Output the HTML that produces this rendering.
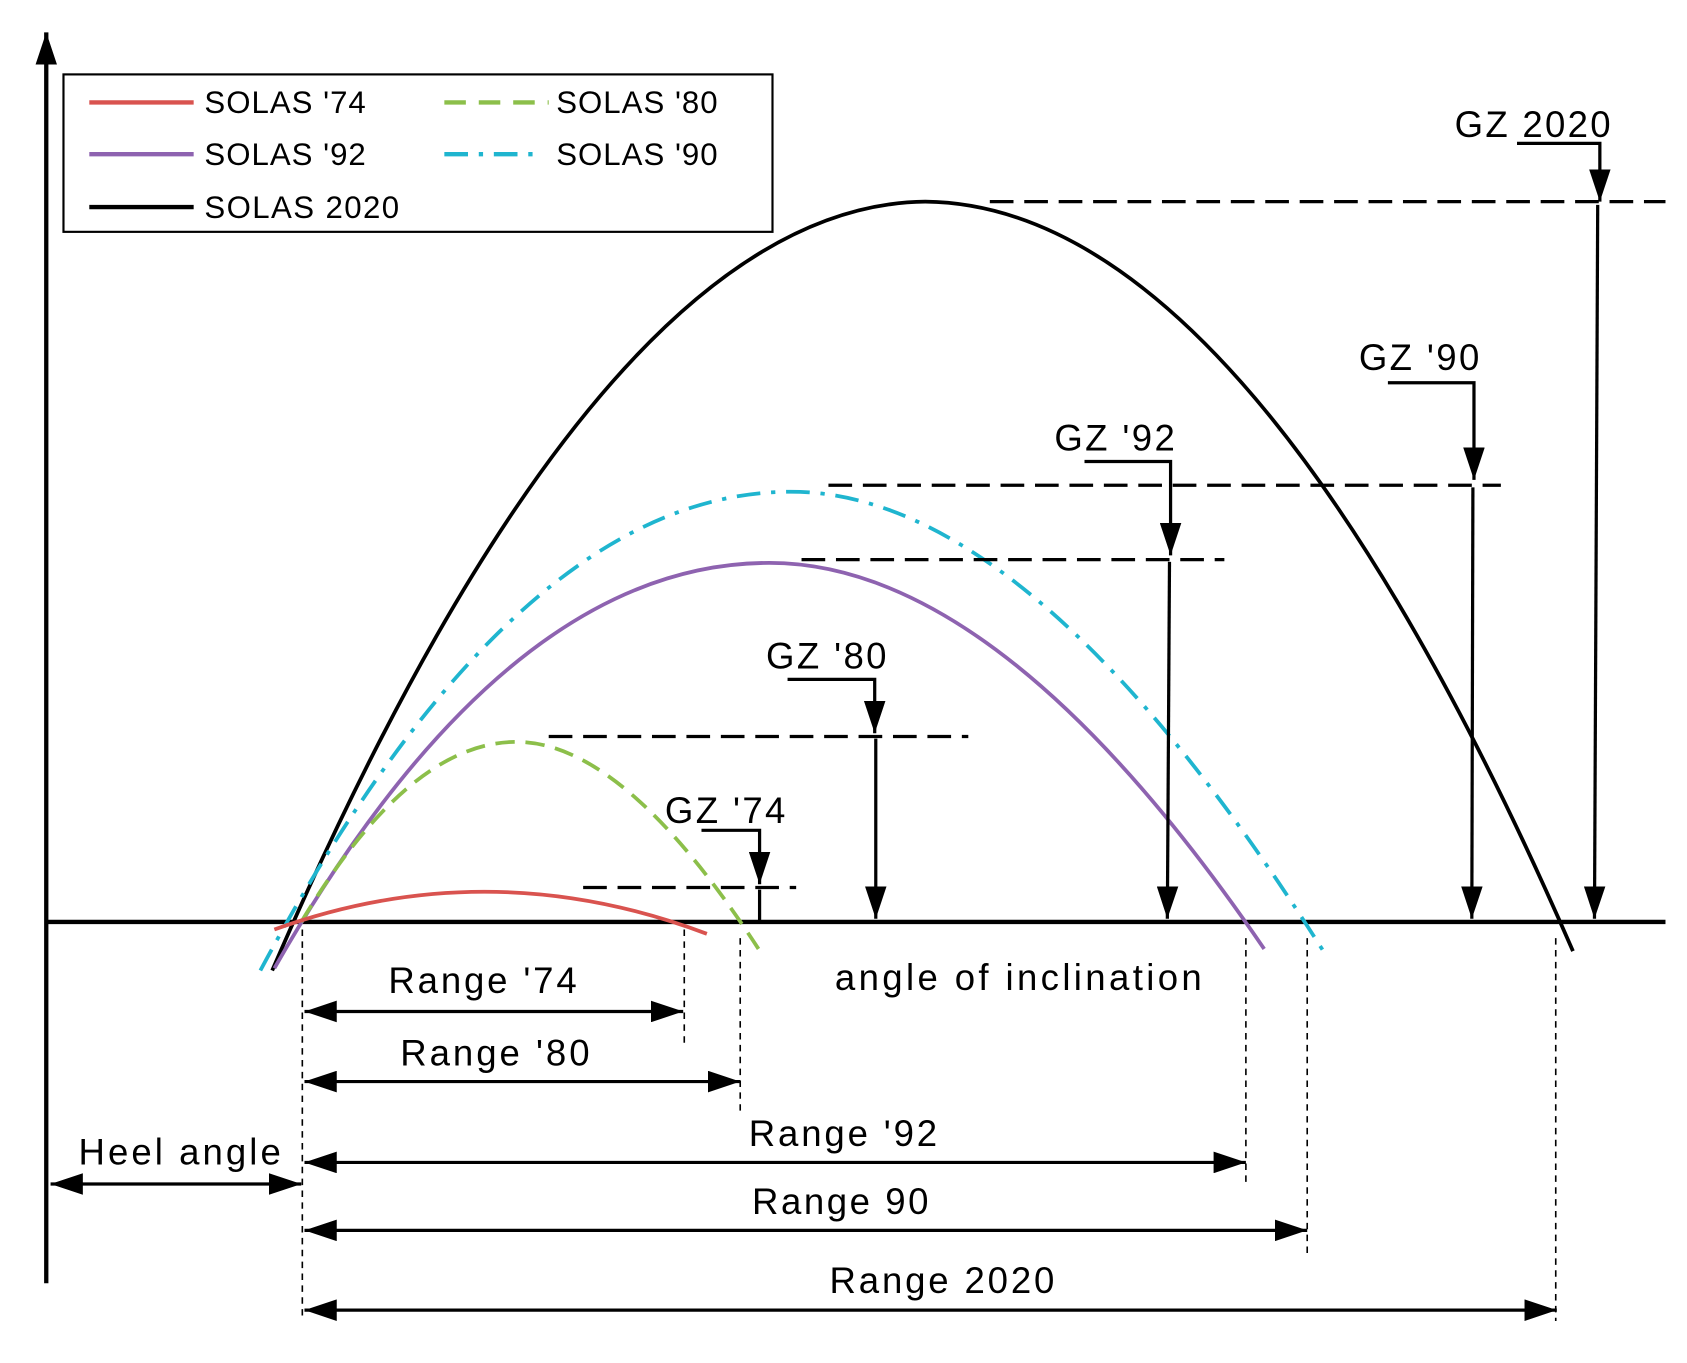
<!DOCTYPE html>
<html><head><meta charset="utf-8"><style>html,body{margin:0;padding:0;background:#fff}svg{display:block}</style></head>
<body>
<svg width="1687" height="1363" viewBox="0 0 1568 1264" preserveAspectRatio="none" xmlns="http://www.w3.org/2000/svg" font-family="Liberation Sans, sans-serif">
<defs>
<marker id="ah" viewBox="0 0 30 20" refX="30" refY="10" markerWidth="30" markerHeight="20" markerUnits="userSpaceOnUse" orient="auto-start-reverse"><path d="M0,0 L30,10 L0,20 z" fill="#000"/></marker>
</defs>
<rect width="1568" height="1264" fill="#fff"/>
<line x1="43" y1="1190" x2="43" y2="30" stroke="#000" stroke-width="4" marker-end="url(#ah)"/>
<line x1="43" y1="855" x2="1548" y2="855" stroke="#000" stroke-width="4"/>
<rect x="59" y="69" width="659" height="146" fill="#fff" stroke="#000" stroke-width="2"/>
<g font-size="29">
<line x1="83" y1="95" x2="180" y2="95" stroke="#d9534f" stroke-width="4"/><text x="190" y="105" textLength="150">SOLAS '74</text>
<line x1="413" y1="95" x2="510" y2="95" stroke="#8cbf4a" stroke-width="4" stroke-dasharray="20,12"/><text x="517" y="105" textLength="150">SOLAS '80</text>
<line x1="83" y1="143" x2="180" y2="143" stroke="#8e63b0" stroke-width="4"/><text x="190" y="153" textLength="150">SOLAS '92</text>
<line x1="413" y1="143" x2="500" y2="143" stroke="#1fb5cf" stroke-width="4" stroke-dasharray="22,10,4,10"/><text x="517" y="153" textLength="150">SOLAS '90</text>
<line x1="83" y1="192" x2="180" y2="192" stroke="#000" stroke-width="4"/><text x="190" y="202" textLength="181">SOLAS 2020</text>
</g>
<path d="M253,900 Q560,190 860,187 Q1160,190 1462,882" fill="none" stroke="#000" stroke-width="3.5"/>
<path d="M242,900 Q480,456 735,456 Q960,456 1230,882" fill="none" stroke="#1fb5cf" stroke-width="3.5" stroke-dasharray="22,10,4,10"/>
<path d="M255,898 Q470,522 715,522 Q930,522 1175,880" fill="none" stroke="#8e63b0" stroke-width="3.5"/>
<path d="M280,855 Q380,688 480,688 Q580,688 705,880" fill="none" stroke="#8cbf4a" stroke-width="3.5" stroke-dasharray="18,10"/>
<path d="M255,862 Q455,790 657,866" fill="none" stroke="#d9534f" stroke-width="3.5"/>
<g stroke="#000" stroke-width="3" stroke-dasharray="22,10">
<line x1="920" y1="187" x2="1548" y2="187"/>
<line x1="770" y1="450" x2="1395" y2="450"/>
<line x1="745" y1="519" x2="1138" y2="519"/>
<line x1="510" y1="683" x2="900" y2="683"/>
<line x1="542" y1="823" x2="740" y2="823"/>
</g>
<g stroke="#000" stroke-width="3" fill="none">
<polyline points="1410,133 1487,133 1487,187" marker-end="url(#ah)"/>
<line x1="1485" y1="190" x2="1482" y2="852" marker-end="url(#ah)"/>
<polyline points="1290,355 1370,355 1370,445" marker-end="url(#ah)"/>
<line x1="1369" y1="452" x2="1368" y2="852" marker-end="url(#ah)"/>
<polyline points="1008,428 1088,428 1088,515" marker-end="url(#ah)"/>
<line x1="1087" y1="521" x2="1085" y2="852" marker-end="url(#ah)"/>
<polyline points="732,630 813,630 813,680" marker-end="url(#ah)"/>
<line x1="814" y1="685" x2="814" y2="852" marker-end="url(#ah)"/>
<polyline points="652,770 706,770 706,820" marker-end="url(#ah)"/>
<line x1="706" y1="825" x2="706" y2="855"/>
</g>
<g font-size="34">
<text x="1352" y="127" textLength="145">GZ 2020</text>
<text x="1263" y="343" textLength="112">GZ '90</text>
<text x="980" y="418" textLength="112">GZ '92</text>
<text x="712" y="620" textLength="112">GZ '80</text>
<text x="618" y="763" textLength="112">GZ '74</text>
<text x="776" y="918" textLength="341">angle of inclination</text>
<text x="361" y="921" textLength="175">Range '74</text>
<text x="372" y="988" textLength="176">Range '80</text>
<text x="696" y="1063" textLength="175">Range '92</text>
<text x="699" y="1126" textLength="164">Range 90</text>
<text x="771" y="1199" textLength="209">Range 2020</text>
<text x="73" y="1080" textLength="188">Heel angle</text>
</g>
<g stroke="#000" stroke-width="1.5" stroke-dasharray="6,5">
<line x1="281" y1="862" x2="281" y2="1225"/>
<line x1="636" y1="862" x2="636" y2="970"/>
<line x1="688" y1="870" x2="688" y2="1030"/>
<line x1="1158" y1="870" x2="1158" y2="1100"/>
<line x1="1215" y1="870" x2="1215" y2="1165"/>
<line x1="1446" y1="870" x2="1446" y2="1225"/>
</g>
<g stroke="#000" stroke-width="3">
<line x1="283" y1="938" x2="635" y2="938" marker-start="url(#ah)" marker-end="url(#ah)"/>
<line x1="283" y1="1003" x2="688" y2="1003" marker-start="url(#ah)" marker-end="url(#ah)"/>
<line x1="283" y1="1078" x2="1158" y2="1078" marker-start="url(#ah)" marker-end="url(#ah)"/>
<line x1="283" y1="1141" x2="1215" y2="1141" marker-start="url(#ah)" marker-end="url(#ah)"/>
<line x1="283" y1="1215" x2="1447" y2="1215" marker-start="url(#ah)" marker-end="url(#ah)"/>
<line x1="47" y1="1098" x2="280" y2="1098" marker-start="url(#ah)" marker-end="url(#ah)"/>
</g>
</svg>
</body></html>
